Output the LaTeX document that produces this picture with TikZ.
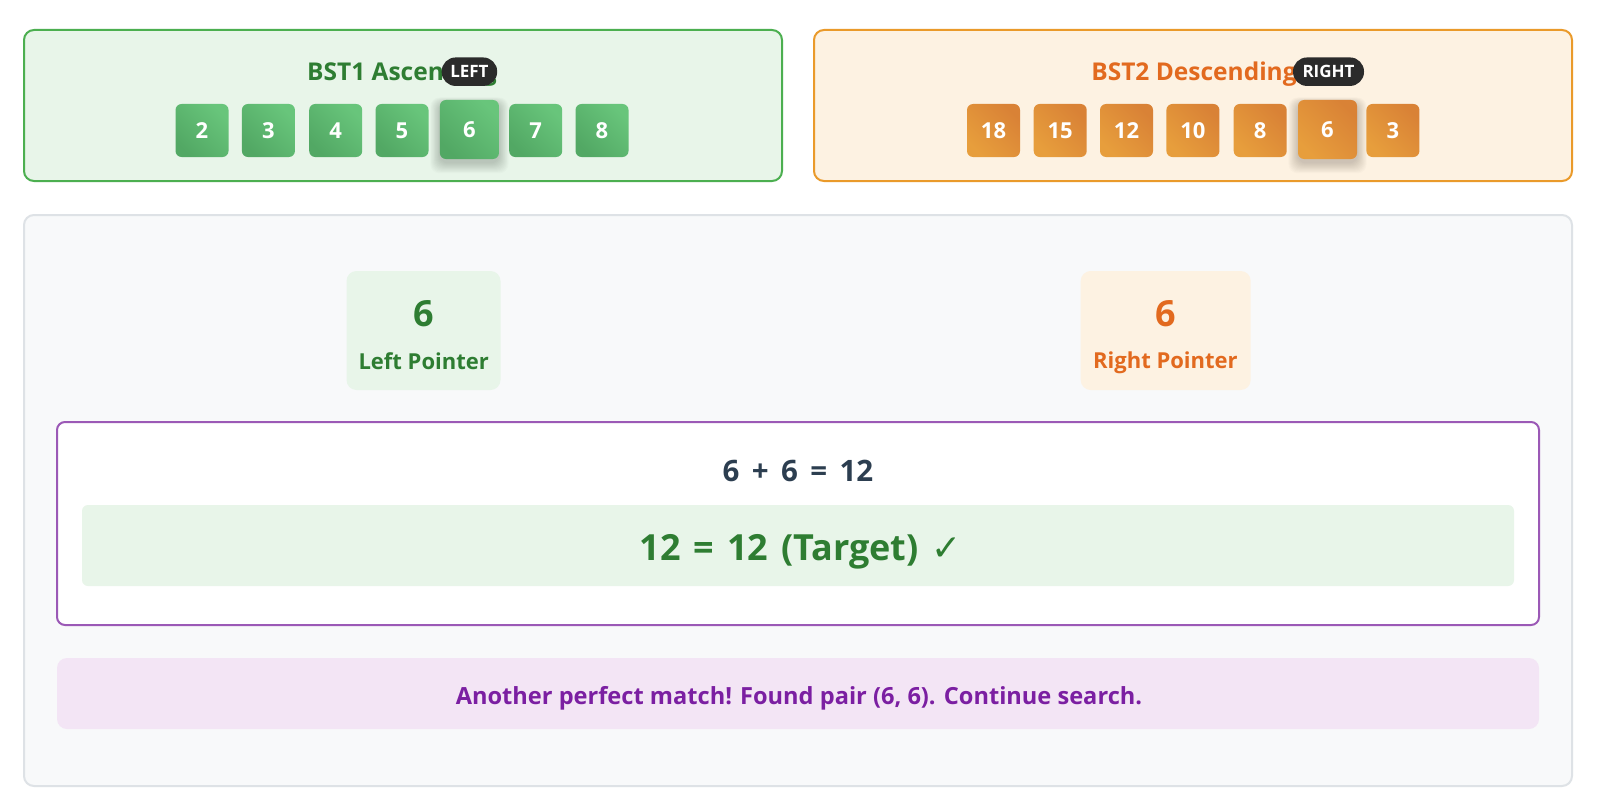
\documentclass[tikz,border=0pt]{standalone}
\usepackage{fontspec}
\setmainfont{Open Sans}
\newfontfamily\symfont{DejaVu Sans}
\definecolor{gFill}{HTML}{E8F5E9}
\definecolor{gBorder}{HTML}{4CAF50}
\definecolor{gText}{HTML}{2E7D32}
\definecolor{gTileA}{HTML}{52A864}
\definecolor{gTileB}{HTML}{68C57B}
\definecolor{oFill}{HTML}{FDF2E2}
\definecolor{oBorder}{HTML}{EA9A2A}
\definecolor{oText}{HTML}{E26A1F}
\definecolor{oTileA}{HTML}{E79E3C}
\definecolor{oTileB}{HTML}{D98236}
\definecolor{badge}{HTML}{2B2B2B}
\definecolor{mainFill}{HTML}{F8F9FA}
\definecolor{mainBorder}{HTML}{DEE2E6}
\definecolor{pBorder}{HTML}{9B59B6}
\definecolor{eqText}{HTML}{2C3E50}
\definecolor{msgFill}{HTML}{F3E5F5}
\definecolor{msgText}{HTML}{7B1FA2}
\tikzset{
  panel/.style={rectangle, rounded corners=10pt, line width=2pt, inner sep=0pt},
  softbox/.style={rectangle, rounded corners=10pt, inner sep=0pt, draw=none},
  tilebase/.style={rectangle, rounded corners=6pt, minimum width=53pt, minimum height=53pt,
    inner sep=0pt, text=white, font=\fontsize{22}{26}\selectfont\bfseries},
  tileG/.style={tilebase, left color=gTileA, right color=gTileB, shading angle=135},
  tileO/.style={tilebase, left color=oTileA, right color=oTileB, shading angle=135},
  hilite/.style={minimum width=59pt, minimum height=59pt},
  pill/.style={rectangle, rounded corners=14pt, minimum height=28.5pt, fill=badge, inner sep=0pt,
    text=white, font=\fontsize{17}{20}\selectfont\bfseries},
  title/.style={font=\fontsize{24.5}{29}\selectfont\bfseries, anchor=base},
  bignum/.style={font=\fontsize{36}{42}\selectfont\bfseries},
  plabel/.style={font=\fontsize{22}{26}\selectfont\bfseries, anchor=base},
}
\begin{document}
\begin{tikzpicture}[x=1pt,y=-1pt]
\path[use as bounding box, fill=white] (0,0) rectangle (1600,797);

% top panels
\node[panel, draw=gBorder, fill=gFill, minimum width=758pt, minimum height=151pt] (bst1) at (403,105.5) {};
\node[panel, draw=oBorder, fill=oFill, minimum width=758pt, minimum height=151pt] (bst2) at (1193,105.5) {};

\node[title, text=gText] (title1) at (402,81) {BST1 Ascending};
\node[title, text=oText] (title2) at (1194,81) {BST2 Descending};

% soft shadows for highlighted tiles
\foreach \cx in {469.4,1327.5}{
  \foreach \g in {1,...,12}{
    \fill[black, opacity=0.016, rounded corners=9pt]
      (\cx-29.5-\g*0.8,133-29.5-\g*0.5) rectangle (\cx+29.5+\g*0.8,133+29.5+\g*0.9);
  }
}

% BST1 tiles
\node[tileG] (a1) at (202,130.5) {2};
\node[tileG] (a2) at (268.4,130.5) {3};
\node[tileG] (a3) at (335.7,130.5) {4};
\node[tileG] (a4) at (402,130.5) {5};
\node[tileG, hilite] (a5) at (469.4,129.5) {6};
\node[tileG] (a6) at (535.7,130.5) {7};
\node[tileG] (a7) at (602,130.5) {8};

% BST2 tiles
\node[tileO] (b1) at (993.5,130.5) {18};
\node[tileO] (b2) at (1060.2,130.5) {15};
\node[tileO] (b3) at (1126.5,130.5) {12};
\node[tileO] (b4) at (1192.9,130.5) {10};
\node[tileO] (b5) at (1260.2,130.5) {8};
\node[tileO, hilite] (b6) at (1327.5,129.5) {6};
\node[tileO] (b7) at (1392.9,130.5) {3};

% badges
\node[pill, minimum width=55.5pt] (leftbadge) at (469.4,71.7) {LEFT};
\node[pill, minimum width=71pt] (rightbadge) at (1328.5,71.7) {RIGHT};

% main panel
\node[panel, draw=mainBorder, fill=mainFill, minimum width=1548pt, minimum height=571pt] (main) at (798,500.5) {};

% pointer boxes
\node[softbox, fill=gFill, minimum width=154pt, minimum height=119pt] (lp) at (423.5,330.5) {};
\node[bignum, text=gText] (lpnum) at (423.5,314) {6};
\node[plabel, text=gText] (lplab) at (423.7,369) {Left Pointer};

\node[softbox, fill=oFill, minimum width=170pt, minimum height=119pt] (rp) at (1165.7,330.5) {};
\node[bignum, text=oText] (rpnum) at (1165.5,314) {6};
\node[plabel, text=oText] (rplab) at (1165.4,368.5) {Right Pointer};

% sum box
\node[panel, draw=pBorder, fill=white, rounded corners=8pt, minimum width=1482pt, minimum height=203pt] (sum) at (798,523.5) {};
\node[font=\fontsize{29.5}{34}\selectfont\bfseries, text=eqText, anchor=base] (eq) at (798,481.7)
  {\spaceskip=0.42em 6 + 6 = 12};
\node[softbox, rounded corners=6pt, fill=gFill, minimum width=1432pt, minimum height=81pt] (res) at (798,545.5) {};
\node[font=\fontsize{36}{42}\selectfont\bfseries, text=gText, anchor=base] (restext) at (800.5,560.7)
  {\spaceskip=0.36em 12 = 12 (Target) {\symfont\mdseries ✓}};

% message
\node[softbox, fill=msgFill, minimum width=1482pt, minimum height=71pt] (msg) at (798,693.5) {};
\node[font=\fontsize{23.6}{28}\selectfont\bfseries, text=msgText, anchor=base] (msgtext) at (799,704)
  {Another perfect match! Found pair (6, 6). Continue search.};
\end{tikzpicture}
\end{document}
